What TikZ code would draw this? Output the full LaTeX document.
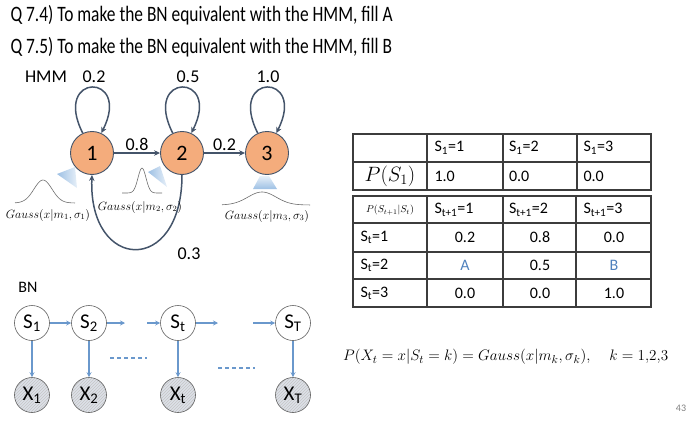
\documentclass[tikz,border=0pt]{standalone}
\usepackage{fontspec}
\setmainfont{Carlito}
\newfontfamily\questfont[FakeStretch=0.79]{Carlito}
\usetikzlibrary{arrows.meta, positioning, patterns}
\definecolor{hmmorange}{HTML}{F4AC7C}
\definecolor{hmmline}{HTML}{44546A}
\definecolor{bnblue}{HTML}{6A98CC}
\definecolor{conelight}{HTML}{9DC0E4}
\definecolor{hatchfill}{HTML}{DCE1E8}
\definecolor{tabline}{HTML}{3C3C3C}
\definecolor{fillblue}{HTML}{4F81BD}

\begin{document}
\begin{tikzpicture}[x=1pt, y=1pt, font=\fontsize{16}{19}\selectfont,
  state/.style={circle, draw=hmmline, line width=0.9pt, fill=hmmorange, minimum size=43pt, inner sep=0pt, font=\fontsize{22}{24}\selectfont},
  trans/.style={-{Stealth[length=6pt, width=5.5pt]}, draw=hmmline, line width=1.5pt},
  hlabel/.style={font=\fontsize{18}{20}\selectfont},
  hid/.style={circle, draw=gray!75!black, line width=0.6pt, fill=white, minimum size=35pt, inner sep=0pt, font=\fontsize{21}{23}\selectfont},
  obs/.style={hid, preaction={fill=hatchfill}, pattern=north east lines, pattern color=gray!45},
  emit/.style={-{Stealth[length=5pt, width=5pt]}, draw=bnblue, line width=1.3pt},
  gauss/.style={draw=gray!85!black, line width=0.6pt},
  glabel/.style={font=\fontsize{12}{14}\selectfont},
  tab/.style={draw=tabline, line width=1.2pt}]
\useasboundingbox (0,0) rectangle (700,-425);

% questions
\node[anchor=base west, font=\fontsize{22}{26}\questfont] (q74) at (7,-22) {Q 7.4) To make the BN equivalent with the HMM, fill A};
\node[anchor=base west, font=\fontsize{22}{26}\questfont] (q75) at (7,-54) {Q 7.5) To make the BN equivalent with the HMM, fill B};

% HMM
\node[hlabel] (hmm) at (46,-77) {HMM};
\node (s1) [state] at (92,-153) {1};
\node (s2) [state] at (182,-153) {2};
\node (s3) [state] at (267,-153) {3};
\foreach \s/\p/\dx in {s1/0.2/2, s2/0.5/6, s3/1.0/1}
{
    \draw[trans] (\s.115) .. controls +(-31,61) and +(31,61) .. (\s.65);
    \node[hlabel] (l\s) at ([xshift=\dx pt]\s.center |- 0,-77) {\p};
}
\draw[trans] (s1) -- node[hlabel, above=-2pt] (l12) {0.8} (s2);
\draw[trans] (s2) -- node[hlabel, above=-2pt] (l23) {0.2} (s3);
\draw[trans] (s2.south) .. controls (182,-276) and (88,-272) .. (s1.south);
\node[hlabel] (l21) at (189,-254) {0.3};

% emissions
\shade[left color=conelight, right color=conelight!25] (57,-174) -- (75,-167) -- (77,-188) -- cycle;
\shade[left color=conelight, right color=conelight!25] (148,-172) -- (160,-166) -- (167,-187) -- cycle;
\shade[top color=conelight!25, bottom color=conelight] (260,-176) -- (269,-176) -- (277,-189) -- (253,-189) -- cycle;
\draw[gauss] plot[domain=15:75, samples=40] (\x, {-203 + 23*exp(-((\x-43)^2)/162)});
\draw[gauss] plot[domain=122:162, samples=40] (\x, {-193 + 25*exp(-((\x-142)^2)/32)});
\draw[gauss] plot[domain=222:310, samples=50] (\x, {-205 + 13*exp(-((\x-262)^2)/400)});
\node[glabel] (g1) at (48,-215) {$Gauss(x|m_1,\sigma_1)$};
\node[glabel] (g2) at (140,-207) {$Gauss(x|m_2,\sigma_2)$};
\node[glabel] (g3) at (267,-216) {$Gauss(x|m_3,\sigma_3)$};

% BN
\node (bn) at (28,-287) {BN};
\foreach \n/\x/\t in {1/32/1, 2/89/2, t/178/t, T/293/T}
{
    \node (S\n) [hid] at (\x,-323) {S\textsubscript{\t}};
    \node (X\n) [obs] at (\x,-395) {X\textsubscript{\t}};
    \draw[emit] (S\n) -- (X\n);
}
\coordinate (e2) at (125,-323);
\coordinate (bt) at (147,-323);
\coordinate (et) at (218,-323);
\coordinate (bT) at (253,-323);
\draw[emit] (S1) -- (S2);
\draw[emit] (S2) -- (e2);
\draw[emit] (bt) -- (St);
\draw[emit] (St) -- (et);
\draw[emit] (bT) -- (ST);
\draw[bnblue, line width=1.2pt, dash pattern=on 4pt off 3pt] (110,-358) -- (147,-358);
\draw[bnblue, line width=1.2pt, dash pattern=on 4pt off 3pt] (218,-368) -- (255,-368);

% initial table
\foreach \xa/\xb in {353/427, 427/503, 503/577, 577/651}
{
    \draw[tab] (\xa,-134) rectangle (\xb,-162);
    \draw[tab] (\xa,-162) rectangle (\xb,-190);
}
\node (ps1) at (390,-176) {\fontsize{20}{22}\selectfont$P(S_1)$};
\foreach \v/\p [count=\i] in {1/1.0, 2/0.0, 3/0.0}
{
    \node[anchor=west] (h\i) at ({353+\i*74.5-74.5+74+4},-148) {S\textsubscript{1}=\v};
    \node[anchor=west] (p\i) at ({353+\i*74.5-74.5+74+4},-176) {\p};
}

% transition table
\foreach \ya/\yb in {196/223, 223/252, 252/279, 279/307}
    \foreach \xa/\xb in {353/427, 427/503, 503/576, 576/651}
        \draw[tab] (\xa,-\ya) rectangle (\xb,-\yb);
\node (pst) at (390,-210) {\fontsize{10}{12}\selectfont$P(S_{t+1}|S_t)$};
\foreach \i in {1,2,3}
{
    \node[anchor=west] (n\i) at ({353+\i*74.5-74.5+74+4},-210) {S\textsubscript{t+1}=\i};
    \node[anchor=west] (r\i) at (357,{-209.5-\i*28}) {S\textsubscript{t}=\i};
}
\foreach \r/\a/\b/\c in {1/0.2/0.8/0.0, 2/{\color{fillblue}A}/0.5/{\color{fillblue}B}, 3/0.0/0.0/1.0}
{
    \node (a\r) at (465,{-209.5-\r*28}) {\a};
    \node (b\r) at (540,{-209.5-\r*28}) {\b};
    \node (c\r) at (614,{-209.5-\r*28}) {\c};
}

% emission model
\node[anchor=west, inner sep=0pt] (emis) at (343,-357) {\resizebox{325pt}{!}{\fontsize{15.6}{18}\selectfont$P(X_t = x|S_t = k) = Gauss(x|m_k,\sigma_k),\quad k = 1{,}2{,}3$}};
\node[text=gray, font=\fontsize{10}{12}\selectfont] (page) at (681,-408) {43};
\end{tikzpicture}
\end{document}
